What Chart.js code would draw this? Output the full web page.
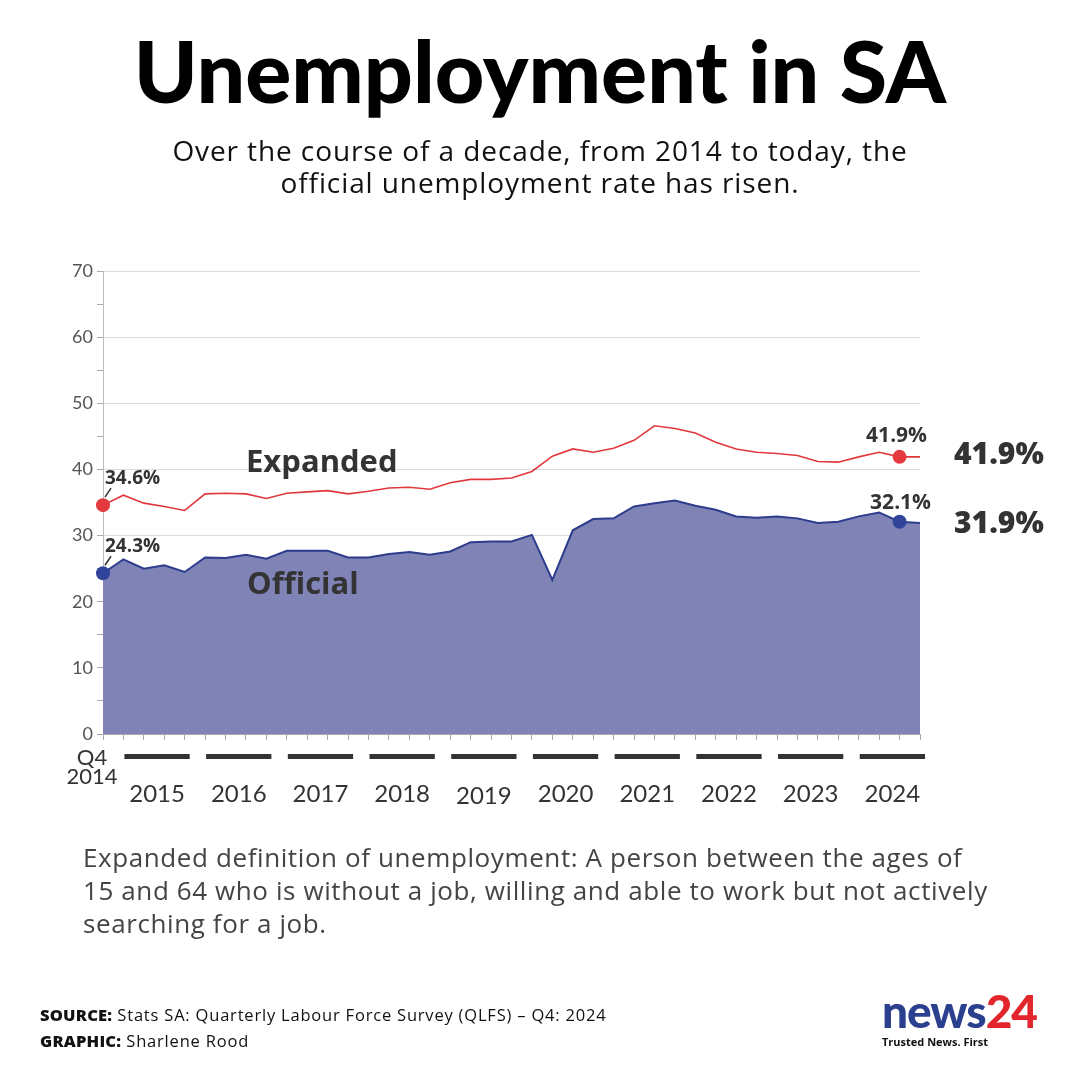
<!DOCTYPE html>
<html><head><meta charset="utf-8">
<script src="https://cdn.jsdelivr.net/npm/chart.js@4.4.1/dist/chart.umd.min.js"></script>
<style>
html,body{margin:0;padding:0;background:#fff;}
body{width:1080px;height:1080px;position:relative;overflow:hidden;font-family:'Open Sans',Lato,sans-serif;}
#wrap{position:absolute;left:0;top:0;width:1080px;height:1080px;}
.t{position:absolute;white-space:nowrap;}
#title{left:0;width:1080px;text-align:center;top:18px;font-family:Lato,sans-serif;font-size:86px;font-weight:900;color:#000;}
#sub{left:0;width:1080px;text-align:center;top:134px;font-size:28px;letter-spacing:0.9px;line-height:32px;color:#111;}
#def{left:83px;top:841px;font-size:26px;letter-spacing:0.6px;line-height:33px;color:#444;}
#foot{left:40px;top:1002px;font-size:16.5px;letter-spacing:0.8px;line-height:26px;color:#111;}
#foot b{font-weight:800;letter-spacing:0.2px;}
#logo{left:882px;top:988px;}
#logo .n{font-family:Lato,sans-serif;font-size:46px;font-weight:900;letter-spacing:-1px;line-height:46px;}
#logo .tag{font-size:11px;font-weight:700;color:#111;margin-top:0px;}
</style></head>
<body>
<div id="wrap"><canvas id="c" width="1080" height="1080"></canvas></div>
<div class="t" id="title">Unemployment in SA</div>
<div class="t" id="sub">Over the course of a decade, from 2014 to today, the<br>official unemployment rate has risen.</div>
<div class="t" id="def">Expanded definition of unemployment: A person between the ages of<br>15 and 64 who is without a job, willing and able to work but not actively<br>searching for a job.</div>
<div class="t" id="foot"><b>SOURCE:</b> Stats SA: Quarterly Labour Force Survey (QLFS) – Q4: 2024<br><b>GRAPHIC:</b> Sharlene Rood</div>
<div class="t" id="logo"><div class="n"><span style="color:#2b3f8f">news</span><span style="color:#e2262c">24</span></div><div class="tag">Trusted News. First</div></div>
<script>
const quarters = ['Q4 2014',
 'Q1 2015','Q2 2015','Q3 2015','Q4 2015',
 'Q1 2016','Q2 2016','Q3 2016','Q4 2016',
 'Q1 2017','Q2 2017','Q3 2017','Q4 2017',
 'Q1 2018','Q2 2018','Q3 2018','Q4 2018',
 'Q1 2019','Q2 2019','Q3 2019','Q4 2019',
 'Q1 2020','Q2 2020','Q3 2020','Q4 2020',
 'Q1 2021','Q2 2021','Q3 2021','Q4 2021',
 'Q1 2022','Q2 2022','Q3 2022','Q4 2022',
 'Q1 2023','Q2 2023','Q3 2023','Q4 2023',
 'Q1 2024','Q2 2024','Q3 2024','Q4 2024'];
const official = [24.3,
 26.4,25.0,25.5,24.5,
 26.7,26.6,27.1,26.5,
 27.7,27.7,27.7,26.7,
 26.7,27.2,27.5,27.1,
 27.6,29.0,29.1,29.1,
 30.1,23.3,30.8,32.5,
 32.6,34.4,34.9,35.3,
 34.5,33.9,32.9,32.7,
 32.9,32.6,31.9,32.1,
 32.9,33.5,32.1,31.9];
const expanded = [34.6,
 36.1,34.9,34.4,33.8,
 36.3,36.4,36.3,35.6,
 36.4,36.6,36.8,36.3,
 36.7,37.2,37.3,37.0,
 38.0,38.5,38.5,38.7,
 39.7,42.0,43.1,42.6,
 43.2,44.4,46.6,46.2,
 45.5,44.1,43.1,42.6,
 42.4,42.1,41.2,41.1,
 41.9,42.6,41.9,41.9];
const yearLabels = ['2015','2016','2017','2018','2019','2020','2021','2022','2023','2024'];
const yTicks = [0,10,20,30,40,50,60,70];
const markedIdx = [0, 39];

const annot = {
  id:'annot',
  afterDraw(chart){
    const {ctx, scales:{x,y}} = chart;
    ctx.save();
    ctx.fillStyle = '#333';
    yearLabels.forEach((yr,i)=>{
      const a = x.getPixelForValue(1+i*4)+1, b = x.getPixelForValue(4+i*4)+5;
      ctx.fillRect(a, 754, b-a, 5);
      ctx.font = '24px Lato, sans-serif';
      ctx.textAlign='center'; ctx.textBaseline='middle';
      ctx.fillText(yr, (a+b)/2, yr==='2019'?796:794);
    });
    const x0 = x.getPixelForValue(0)-11;
    ctx.font = '22px Lato, sans-serif';
    ctx.textAlign='center';
    ctx.fillText('Q4', x0, 758);
    ctx.fillText('2014', x0, 777);
    ctx.strokeStyle='#333'; ctx.lineWidth=1.5;
    const fx = x.getPixelForValue(0);
    [expanded[0], official[0]].forEach(v=>{
      const py = y.getPixelForValue(v);
      ctx.beginPath(); ctx.moveTo(fx+2, py-8); ctx.lineTo(fx+8, py-17); ctx.stroke();
      ctx.font = 'bold 19px "Open Sans", sans-serif';
      ctx.textAlign='left'; ctx.textBaseline='alphabetic';
      ctx.fillText(v.toFixed(1)+'%', fx+2, py-21);
    });
    const mx = x.getPixelForValue(39);
    ctx.textAlign='center';
    ctx.font = 'bold 21px "Open Sans", sans-serif';
    ctx.fillText(expanded[39].toFixed(1)+'%', mx-3, y.getPixelForValue(expanded[39])-15);
    ctx.fillText(official[39].toFixed(1)+'%', mx+1, y.getPixelForValue(official[39])-13);
    ctx.font = 'bold 31px "Open Sans", sans-serif';
    ctx.textAlign='left'; ctx.textBaseline='middle';
    ctx.fillText('Expanded', 246, 463);
    ctx.fillText('Official', 247, 585);
    const lx = x.getPixelForValue(40);
    ctx.font = '800 30px "Open Sans", sans-serif';
    ctx.fillText(expanded[40].toFixed(1)+'%', lx+34, y.getPixelForValue(expanded[40])-1);
    ctx.fillText(official[40].toFixed(1)+'%', lx+34, y.getPixelForValue(official[40])+1);
    ctx.restore();
  }
};

new Chart(document.getElementById('c'), {
  type:'line',
  data:{
    labels: quarters,
    datasets:[
      {label:'Official', data: official, borderColor:'#2e3c8c', backgroundColor:'#7f83b5', fill:'origin', borderWidth:2, tension:0,
       pointRadius: c=> markedIdx.includes(c.dataIndex)?7:0, pointBackgroundColor:'#2f449a', pointBorderWidth:0, order:2},
      {label:'Expanded', data: expanded, borderColor:'#e0383d', fill:false, borderWidth:1.6, tension:0,
       pointRadius: c=> markedIdx.includes(c.dataIndex)?7:0, pointBackgroundColor:'#e43a3f', pointBorderWidth:0, order:1}
    ]
  },
  options:{
    responsive:false, animation:false,
    layout:{padding:{left:0,right:160,top:271,bottom:266}},
    plugins:{legend:{display:false},tooltip:{enabled:false}},
    scales:{
      x:{
        offset:false,
        afterFit: s=>{ s.height = 80; },
        grid:{drawOnChartArea:false, color:'#aaa', tickLength:6, tickWidth:1},
        border:{color:'#aaa', width:1},
        ticks:{autoSkip:false, maxRotation:0, callback:()=>'', padding:0}
      },
      y:{
        min:0, max:70,
        afterFit: s=>{ s.width = 103; },
        afterBuildTicks: s=>{ s.ticks = []; for(let v=0; v<=70; v+=5) s.ticks.push({value:v}); },
        grid:{color: c=> (c.tick && c.tick.value%10===0) ? '#dcdcdc' : 'rgba(0,0,0,0)', tickColor:'#aaa', tickLength:6, drawTicks:true},
        border:{color:'#bbb', width:1},
        ticks:{color:'#555', font:{size:18, family:'Lato, sans-serif'}, padding:4,
          callback: v => yTicks.includes(v) ? String(v) : ''}
      }
    }
  },
  plugins:[annot]
});
</script>
</body></html>
